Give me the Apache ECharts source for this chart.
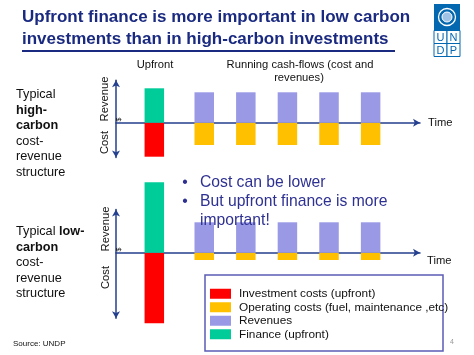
<!DOCTYPE html>
<html>
<head>
<meta charset="utf-8">
<script src="https://cdn.jsdelivr.net/npm/echarts@6/dist/echarts.min.js"></script>
<style>html,body{margin:0;padding:0;background:#fff;}#c{width:474px;height:355px;}</style>
</head>
<body>
<div id="c"></div>
<script>
// ---- data ----
const upfrontTimes = [0];
const runningTimes = [1.2, 2.2, 3.2, 4.2, 5.2];
const seriesNames = ['Investment costs (upfront)', 'Operating costs (fuel, maintenance ,etc)', 'Revenues', 'Finance (upfront)'];
const highInvestment = [-3.40];
const highOperating = [-2.23, -2.23, -2.23, -2.23, -2.23];
const highRevenues = [3.04, 3.04, 3.04, 3.04, 3.04];
const highFinance = [3.44];
const lowInvestment = [-7.06];
const lowOperating = [-0.73, -0.73, -0.73, -0.73, -0.73];
const lowRevenues = [3.04, 3.04, 3.04, 3.04, 3.04];
const lowFinance = [7.04];

const colors = ['#ff0000', '#ffc000', '#9999e6', '#00cc99'];
const FONT = '"Liberation Sans", Arial, sans-serif';
const axisColor = '#24408e';

function pairs(ts, vs) { return ts.map((t, i) => [t, vs[i]]); }

const chart = echarts.init(document.getElementById('c'), null, {renderer: 'canvas'});

function xAx(gi) {
  return {
    type: 'value', gridIndex: gi, min: -0.921, max: 6.387,
    axisLine: {show: true, onZero: true, symbol: ['none', 'arrow'], symbolSize: [6, 7],
      lineStyle: {color: axisColor, width: 1.5}},
    axisTick: {show: false}, axisLabel: {show: false}, splitLine: {show: false}
  };
}
function yAx(gi, min, max) {
  return {
    type: 'value', gridIndex: gi, min: min, max: max,
    axisLine: {show: true, onZero: false, symbol: ['arrow', 'arrow'], symbolSize: [6, 7],
      lineStyle: {color: axisColor, width: 1.5}},
    axisTick: {show: false}, axisLabel: {show: false}, splitLine: {show: false}
  };
}
function bar(name, gi, data, color) {
  return {
    name: name, type: 'bar', xAxisIndex: gi, yAxisIndex: gi,
    data: data, barWidth: 19.5, barGap: '-100%', clip: false,
    itemStyle: {color: color}, silent: true, animation: false
  };
}

const txt = (x, y, text, o) => Object.assign({
  type: 'text', x: x, y: y, z: 100,
  style: Object.assign({text: text, font: '11.2px ' + FONT, fill: '#111', align: 'center', verticalAlign: 'middle'}, o || {})
});
const rtxt = (x, y, text, size) => ({
  type: 'text', x: x, y: y, rotation: Math.PI / 2, z: 100,
  style: {text: text, font: size + 'px ' + FONT, fill: '#111', align: 'center', verticalAlign: 'middle'}
});

const leftRich = {
  r: {fontSize: 12.7, fontFamily: FONT, fill: '#111', lineHeight: 15.5},
  b: {fontSize: 12.7, fontFamily: FONT, fontWeight: 'bold', fill: '#111', lineHeight: 15.5}
};

const option = {
  backgroundColor: '#fff',
  animation: false,
  grid: [
    {left: 116, width: 304, top: 80.2, height: 77.3},
    {left: 116, width: 304, top: 209.5, height: 108.7}
  ],
  xAxis: [xAx(0), xAx(1)],
  yAxis: [yAx(0, -3.48, 4.25), yAx(1, -6.55, 4.32)],
  legend: {
    data: seriesNames, orient: 'vertical', left: 205, top: 282, padding: 5,
    itemWidth: 21, itemHeight: 10, itemGap: 0, icon: 'rect', selectedMode: false,
    textStyle: {fontSize: 11.8, fontFamily: FONT, color: '#111', lineHeight: 13.5, padding: [0, 0, 0, 3]},
    z: 50
  },
  series: [
    bar(seriesNames[0], 0, pairs(upfrontTimes, highInvestment), colors[0]),
    bar(seriesNames[1], 0, pairs(runningTimes, highOperating), colors[1]),
    bar(seriesNames[2], 0, pairs(runningTimes, highRevenues), colors[2]),
    bar(seriesNames[3], 0, pairs(upfrontTimes, highFinance), colors[3]),
    bar(seriesNames[0], 1, pairs(upfrontTimes, lowInvestment), colors[0]),
    bar(seriesNames[1], 1, pairs(runningTimes, lowOperating), colors[1]),
    bar(seriesNames[2], 1, pairs(runningTimes, lowRevenues), colors[2]),
    bar(seriesNames[3], 1, pairs(upfrontTimes, lowFinance), colors[3])
  ],
  graphic: [
    // title
    {type: 'text', x: 22, y: 6, z: 100, style: {
      text: 'Upfront finance is more important in low carbon\ninvestments than in high-carbon investments',
      font: 'bold 17px ' + FONT, fill: '#1a2a80', lineHeight: 22, align: 'left', verticalAlign: 'top'}},
    {type: 'line', z: 100, shape: {x1: 22, y1: 51, x2: 395, y2: 51}, style: {stroke: '#1a2a80', lineWidth: 2}},
    // logo
    {type: 'rect', z: 100, shape: {x: 434, y: 4, width: 26, height: 26}, style: {fill: '#0468b1'}},
    {type: 'circle', z: 101, shape: {cx: 447, cy: 17, r: 8.5}, style: {fill: 'none', stroke: '#ffffff', lineWidth: 1.3}},
    {type: 'circle', z: 101, shape: {cx: 447, cy: 17, r: 5}, style: {fill: '#9fc3e6', stroke: '#ffffff', lineWidth: 1}},
    {type: 'rect', z: 100, shape: {x: 434, y: 30.5, width: 13, height: 13}, style: {fill: '#fff', stroke: '#0468b1', lineWidth: 1}},
    {type: 'rect', z: 100, shape: {x: 447, y: 30.5, width: 13, height: 13}, style: {fill: '#fff', stroke: '#0468b1', lineWidth: 1}},
    {type: 'rect', z: 100, shape: {x: 434, y: 43.5, width: 13, height: 13}, style: {fill: '#fff', stroke: '#0468b1', lineWidth: 1}},
    {type: 'rect', z: 100, shape: {x: 447, y: 43.5, width: 13, height: 13}, style: {fill: '#fff', stroke: '#0468b1', lineWidth: 1}},
    txt(440.5, 37.5, 'U', {font: '11px ' + FONT, fill: '#0468b1'}),
    txt(453.5, 37.5, 'N', {font: '11px ' + FONT, fill: '#0468b1'}),
    txt(440.5, 50.5, 'D', {font: '11px ' + FONT, fill: '#0468b1'}),
    txt(453.5, 50.5, 'P', {font: '11px ' + FONT, fill: '#0468b1'}),
    // left labels
    {type: 'text', x: 16, y: 87, z: 100, style: {
      text: '{r|Typical}\n{b|high-}\n{b|carbon}\n{r|cost-}\n{r|revenue}\n{r|structure}',
      rich: leftRich, align: 'left', verticalAlign: 'top'}},
    {type: 'text', x: 16, y: 224, z: 100, style: {
      text: '{r|Typical }{b|low-}\n{b|carbon}\n{r|cost-}\n{r|revenue}\n{r|structure}',
      rich: leftRich, align: 'left', verticalAlign: 'top'}},
    // headers
    txt(155, 65, 'Upfront'),
    txt(300, 65, 'Running cash-flows (cost and'),
    txt(299, 78, 'revenues)'),
    // axis labels
    rtxt(105, 99, 'Revenue', 11.2),
    rtxt(105, 142.5, 'Cost', 11.2),
    rtxt(119.5, 119.5, '$', 7),
    txt(428, 122.5, 'Time', {align: 'left'}),
    rtxt(106, 229, 'Revenue', 11.2),
    rtxt(106, 277.5, 'Cost', 11.2),
    rtxt(119, 249.5, '$', 7),
    txt(427, 261, 'Time', {align: 'left'}),
    // bullets
    txt(185, 182.5, '•', {font: '15.7px ' + FONT, fill: '#2e3192', align: 'center'}),
    txt(185, 201.5, '•', {font: '15.7px ' + FONT, fill: '#2e3192', align: 'center'}),
    {type: 'text', x: 200, y: 173, z: 100, style: {
      text: 'Cost can be lower\nBut upfront finance is more\nimportant!',
      font: '15.7px ' + FONT, fill: '#2e3192', lineHeight: 19, align: 'left', verticalAlign: 'top'}},
    // legend box
    {type: 'rect', z: 40, shape: {x: 205, y: 275, width: 238, height: 76}, style: {fill: '#fff', stroke: '#5b5bb5', lineWidth: 1.5}},
    // source and page number
    txt(13, 344, 'Source: UNDP', {font: '8px ' + FONT, align: 'left'}),
    txt(452, 342, '4', {font: '7px ' + FONT, fill: '#999'})
  ]
};
chart.setOption(option);
</script>
</body>
</html>
